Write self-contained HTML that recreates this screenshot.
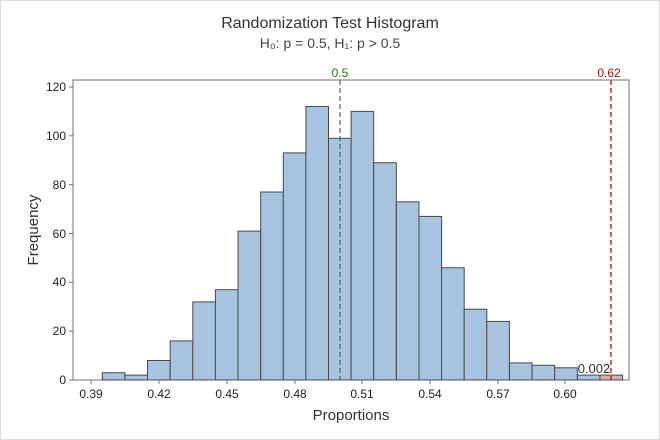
<!DOCTYPE html>
<html><head><meta charset="utf-8"><style>
html,body{margin:0;padding:0;background:#fff}
svg{display:block;font-family:"Liberation Sans",sans-serif}
</style></head><body>
<svg width="660" height="440" viewBox="0 0 660 440" xmlns="http://www.w3.org/2000/svg">
<rect x="0.5" y="0.5" width="659" height="439" fill="#fff" stroke="#dcdcdc"/>
<text x="330" y="28" text-anchor="middle" font-size="16" fill="#333">Randomization Test Histogram</text>
<text x="330" y="48" text-anchor="middle" font-size="14" fill="#444">H₀: p = 0.5, H₁: p &gt; 0.5</text>
<rect x="73" y="80" width="556" height="300" fill="#fff" stroke="#707070"/>
<g stroke="#4a4a4a" stroke-width="1" fill="#a7c3df">
<rect x="102.3" y="372.7" width="22.6" height="7.3"/>
<rect x="124.9" y="375.1" width="22.6" height="4.9"/>
<rect x="147.5" y="360.5" width="22.6" height="19.5"/>
<rect x="170.2" y="340.9" width="22.6" height="39.1"/>
<rect x="192.8" y="301.9" width="22.6" height="78.1"/>
<rect x="215.4" y="289.7" width="22.6" height="90.3"/>
<rect x="238.0" y="231.1" width="22.6" height="148.9"/>
<rect x="260.7" y="192.0" width="22.6" height="188.0"/>
<rect x="283.3" y="152.9" width="22.6" height="227.1"/>
<rect x="305.9" y="106.5" width="22.6" height="273.5"/>
<rect x="328.5" y="138.3" width="22.6" height="241.7"/>
<rect x="351.1" y="111.4" width="22.6" height="268.6"/>
<rect x="373.7" y="162.7" width="22.6" height="217.3"/>
<rect x="396.4" y="201.8" width="22.6" height="178.2"/>
<rect x="419.0" y="216.4" width="22.6" height="163.6"/>
<rect x="441.6" y="267.7" width="22.6" height="112.3"/>
<rect x="464.2" y="309.2" width="22.6" height="70.8"/>
<rect x="486.8" y="321.4" width="22.6" height="58.6"/>
<rect x="509.5" y="362.9" width="22.6" height="17.1"/>
<rect x="532.1" y="365.3" width="22.6" height="14.7"/>
<rect x="554.7" y="367.8" width="22.6" height="12.2"/>
<rect x="577.3" y="375.1" width="22.6" height="4.9"/>
<rect x="600.0" y="375.1" width="22.6" height="4.9" fill="#d9aeb0"/>
</g>
<line x1="340" y1="80" x2="340" y2="380" stroke="#1e5e3a" stroke-dasharray="5,3"/>
<line x1="611" y1="80" x2="611" y2="380" stroke="#d40000" stroke-width="1.3" stroke-dasharray="5,3"/>
<text x="340" y="77" text-anchor="middle" font-size="12" fill="#1a7a1a">0.5</text>
<text x="609" y="77" text-anchor="middle" font-size="12" fill="#a01010">0.62</text>
<text x="594" y="373" text-anchor="middle" font-size="13" fill="#333">0.002</text>
<g font-size="12" fill="#222" text-anchor="end">
<text x="66" y="384">0</text><text x="66" y="335">20</text><text x="66" y="286">40</text>
<text x="66" y="238">60</text><text x="66" y="189">80</text><text x="66" y="140">100</text><text x="66" y="91">120</text>
</g>
<g stroke="#707070">
<line x1="69" y1="380" x2="73" y2="380"/><line x1="69" y1="331.2" x2="73" y2="331.2"/><line x1="69" y1="282.3" x2="73" y2="282.3"/>
<line x1="69" y1="233.5" x2="73" y2="233.5"/><line x1="69" y1="184.7" x2="73" y2="184.7"/><line x1="69" y1="135.8" x2="73" y2="135.8"/><line x1="69" y1="87" x2="73" y2="87"/>
<line x1="91" y1="380" x2="91" y2="384"/><line x1="159" y1="380" x2="159" y2="384"/><line x1="227" y1="380" x2="227" y2="384"/>
<line x1="295" y1="380" x2="295" y2="384"/><line x1="362" y1="380" x2="362" y2="384"/><line x1="430" y1="380" x2="430" y2="384"/>
<line x1="498" y1="380" x2="498" y2="384"/><line x1="565" y1="380" x2="565" y2="384"/>
</g>
<g font-size="12" fill="#222" text-anchor="middle">
<text x="91" y="398">0.39</text><text x="159" y="398">0.42</text><text x="227" y="398">0.45</text><text x="295" y="398">0.48</text>
<text x="362" y="398">0.51</text><text x="430" y="398">0.54</text><text x="498" y="398">0.57</text><text x="565" y="398">0.60</text>
</g>
<text x="351" y="420" text-anchor="middle" font-size="15" fill="#333">Proportions</text>
<text transform="translate(38,230) rotate(-90)" text-anchor="middle" font-size="15" fill="#333">Frequency</text>
</svg>
</body></html>
